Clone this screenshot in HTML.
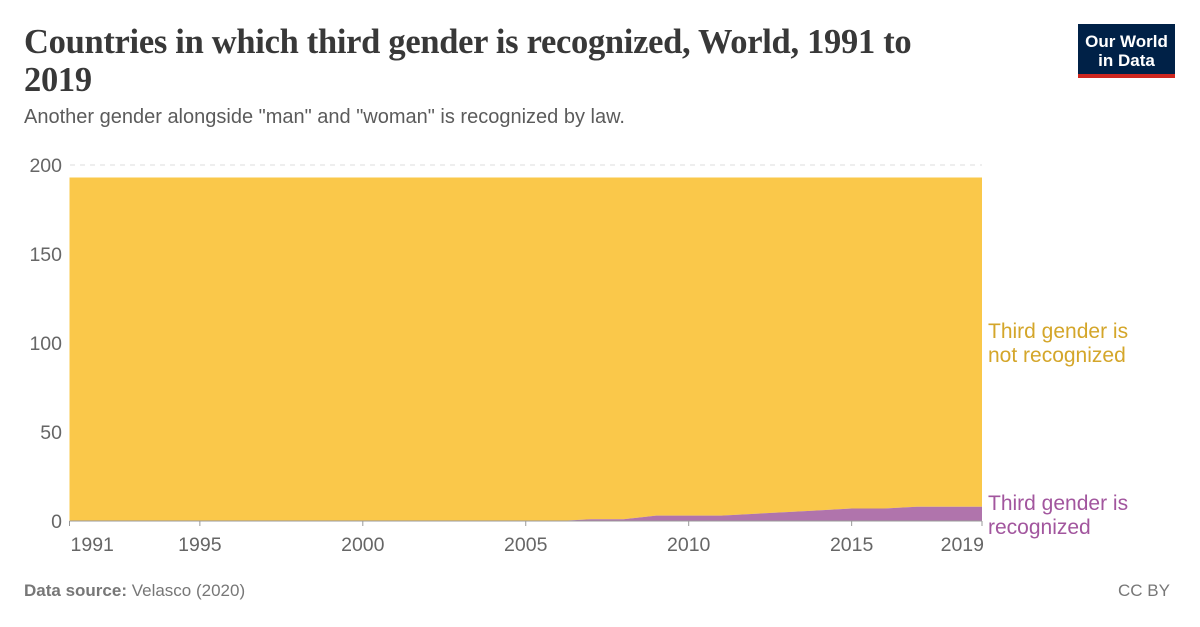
<!DOCTYPE html>
<html><head><meta charset="utf-8"><style>
body{margin:0;width:1200px;height:627px;background:#fff;font-family:"Liberation Sans",sans-serif;overflow:hidden;position:relative}
.t{position:absolute;left:24px;top:23px;font-family:"Liberation Serif",serif;font-size:34.5px;line-height:38px;color:#383838;width:920px;font-weight:bold;letter-spacing:-0.3px}
.s{position:absolute;left:24px;top:106px;font-size:20px;color:#5b5b5b}
.logo{position:absolute;left:1078px;top:24px;width:97px;height:54px;background:#002147;border-bottom:4px solid #ce261e;color:#fff;font-size:17px;line-height:19px;text-align:center;box-sizing:border-box;padding-top:8px;font-weight:bold}
.f{position:absolute;top:581px;font-size:17px;color:#777}
</style></head><body>
<div class="t">Countries in which third gender is recognized, World, 1991 to 2019</div>
<div class="s">Another gender alongside "man" and "woman" is recognized by law.</div>
<div class="logo">Our World<br>in Data</div>
<div class="f" style="left:24px"><b>Data source:</b> Velasco (2020)</div>
<div class="f" style="right:30px">CC BY</div>
<svg id="c" width="1200" height="627" style="position:absolute;left:0;top:0"></svg>
<script>
const years=[1991,1992,1993,1994,1995,1996,1997,1998,1999,2000,2001,2002,2003,2004,2005,2006,2007,2008,2009,2010,2011,2012,2013,2014,2015,2016,2017,2018,2019];
const recognized=[0,0,0,0,0,0,0,0,0,0,0,0,0,0,0,0,1,1,3,3,3,4,5,6,7,7,8,8,8];
const totalCountries=[193,193,193,193,193,193,193,193,193,193,193,193,193,193,193,193,193,193,193,193,193,193,193,193,193,193,193,193,193];
const yTicks=[0,50,100,150,200];
const xTicks=[1991,1995,2000,2005,2010,2015,2019];
const NS="http://www.w3.org/2000/svg",svgEl=document.getElementById('c');
const xs=v=>69.5+(v-1991)*(982-69.5)/28, ys=v=>521-v*(521-165)/200;
function el(t,a,txt){const e=document.createElementNS(NS,t);for(const k in a)e.setAttribute(k,a[k]);if(txt!=null)e.textContent=txt;svgEl.appendChild(e);return e;}
yTicks.forEach(v=>{
  if(v>0){const g=el('line',{x1:70,x2:982,y1:ys(v),y2:ys(v),stroke:'#ddd','stroke-dasharray':'5,5'});
  
  }
  const t=el('text',{x:62,y:ys(v)+7,'text-anchor':'end','font-size':19.5,fill:'#666','font-family':'Liberation Sans'},v);
  
  
});
const upper=years.map((yr,i)=>xs(yr)+','+ys(totalCountries[i])).join(' ');
const mid=years.map((yr,i)=>xs(yr)+','+ys(recognized[i]));
const a1=el('polygon',{points:upper+' '+mid.slice().reverse().join(' '),fill:'#fac84a'});


const a2=el('polygon',{points:mid.join(' ')+' '+xs(2019)+','+ys(0)+' '+xs(1991)+','+ys(0),fill:'#b074ac'});


const ax=el('line',{x1:69.5,x2:982,y1:521,y2:521,stroke:'#999'});


xTicks.forEach(v=>{
  el('line',{x1:xs(v),x2:xs(v),y1:521,y2:526,stroke:'#999'});
  const anchor=v===1991?'start':v===2019?'end':'middle';
  const t=el('text',{x:v===1991?xs(v)+1:v===2019?xs(v)+2:xs(v),y:551,'text-anchor':anchor,'font-size':19.5,fill:'#666','font-family':'Liberation Sans'},v);
  
  
});
[['Third gender is',338,'#d4a62a','label-not-recognized'],['not recognized',362,'#d4a62a','label-not-recognized-2'],['Third gender is',510,'#a2569e','label-recognized'],['recognized',534,'#a2569e','label-recognized-2']].forEach(d=>{
  const t=el('text',{x:988,y:d[1],'font-size':21,fill:d[2],'font-family':'Liberation Sans'},d[0]);
  
  
});
</script>
</body></html>
